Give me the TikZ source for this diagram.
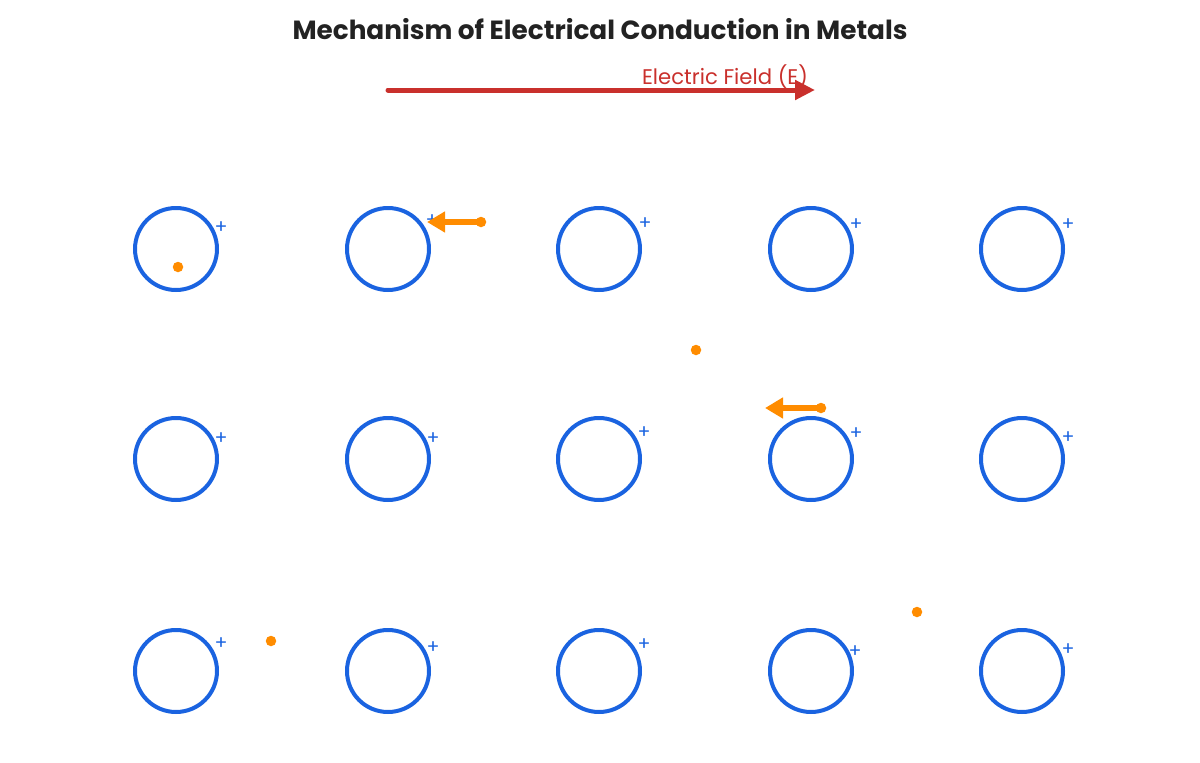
\documentclass[tikz,border=0pt]{standalone}
\usepackage{fontspec}
\setmainfont{Poppins}
\usetikzlibrary{arrows.meta}
\definecolor{ionblue}{HTML}{1A63E0}
\definecolor{elorange}{HTML}{FF8C00}
\definecolor{fieldred}{HTML}{C9302C}
\definecolor{titlegray}{HTML}{222222}
\begin{document}
\begin{tikzpicture}[x=1pt, y=-1pt,
    ion/.style = {draw=ionblue, line width=4pt, circle, minimum size=82pt, inner sep=0pt},
    charge/.style = {text=ionblue, font=\fontsize{19}{19}\selectfont, inner sep=0pt, yshift=-2.5pt},
    electron/.style = {fill=elorange, circle, minimum size=10.5pt, inner sep=0pt},
    drift/.style = {draw=elorange, line width=5.5pt, -{Triangle[length=18pt, width=20pt]}}]
	\useasboundingbox (0,0) rectangle (1200,763);
	% title and field
	\node[text=titlegray, font=\bfseries\fontsize{26.3}{27}\selectfont] (title) at (600,29) {Mechanism of Electrical Conduction in Metals};
	\coordinate (f1) at (388,90);
	\coordinate (f2) at (815,90);
	\draw[fieldred, line width=5pt, line cap=round, -{Triangle[length=20pt, width=19pt]}] (f1) -- (f2);
	\node[text=fieldred, font=\fontsize{21.2}{21}\selectfont] (field) at (725,77) {Electric Field (E)};
	% lattice ions
	\node[ion] (i11) at (176,249) {};
	\node[ion] (i12) at (388,249) {};
	\node[ion] (i13) at (599,249) {};
	\node[ion] (i14) at (811,249) {};
	\node[ion] (i15) at (1022,249) {};
	\node[ion] (i21) at (176,459) {};
	\node[ion] (i22) at (388,459) {};
	\node[ion] (i23) at (599,459) {};
	\node[ion] (i24) at (811,459) {};
	\node[ion] (i25) at (1022,459) {};
	\node[ion] (i31) at (176,671) {};
	\node[ion] (i32) at (388,671) {};
	\node[ion] (i33) at (599,671) {};
	\node[ion] (i34) at (811,671) {};
	\node[ion] (i35) at (1022,671) {};
	% charges
	\node[charge] (p11) at (221,225) {+};
	\node[charge] (p12) at (432,218) {+};
	\node[charge] (p13) at (645,221) {+};
	\node[charge] (p14) at (856,222) {+};
	\node[charge] (p15) at (1068,222) {+};
	\node[charge] (p21) at (221,436) {+};
	\node[charge] (p22) at (433,436) {+};
	\node[charge] (p23) at (644,430) {+};
	\node[charge] (p24) at (856,431) {+};
	\node[charge] (p25) at (1068,435) {+};
	\node[charge] (p31) at (221,641) {+};
	\node[charge] (p32) at (433,645) {+};
	\node[charge] (p33) at (644,642) {+};
	\node[charge] (p34) at (855,649) {+};
	\node[charge] (p35) at (1068,647) {+};
	% free electrons
	\node[electron] (e1) at (178,267) {};
	\node[electron] (e2) at (481,222) {};
	\node[electron] (e3) at (696,350) {};
	\node[electron] (e4) at (821,408) {};
	\node[electron] (e5) at (271,641) {};
	\node[electron] (e6) at (917,612) {};
	\coordinate (d2) at (427,222);
	\coordinate (d4) at (765,408);
	\draw[drift] (e2.center) -- (d2);
	\draw[drift] (e4.center) -- (d4);
\end{tikzpicture}
\end{document}
